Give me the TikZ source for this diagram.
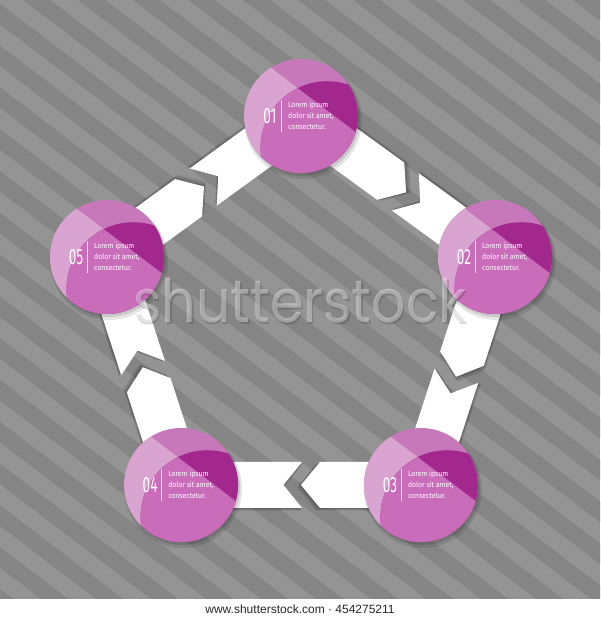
\documentclass[tikz,border=0pt]{standalone}
\usepackage{fontspec}
\setmainfont{Fira Sans}
\newfontfamily\numfont[FakeStretch=0.62]{Fira Sans}
\newfontfamily\bodyfont[FakeStretch=0.9]{Fira Sans}
\newfontfamily\wmfont[FakeStretch=0.9]{Poppins}
\newfontfamily\urlfont{Liberation Sans}
\usetikzlibrary{calc}
\definecolor{stripeL}{HTML}{949494}
\definecolor{stripeD}{HTML}{858585}
\definecolor{dTop}{HTML}{C678BA}
\definecolor{dLight}{HTML}{D9A4D0}
\definecolor{dDark}{HTML}{A2288E}
\definecolor{dLow}{HTML}{C96CBA}
\tikzset{
 disc/.style={circle, minimum size=114pt, inner sep=0pt, path picture={
   \begin{scope}[shift={(path picture bounding box.center)}, x=57pt, y=57pt]
     \fill[dTop] (-1.1,-1.1) rectangle (1.1,1.1);
     \fill[dLight] (-1.305,1.435) -- (1.675,-0.825) -- (1.675,-1.6) -- (-1.6,-1.6) -- (-1.6,1.435) -- cycle;
     \begin{scope}
       \clip (0.46,-0.56) circle (1.17);
       \fill[dDark] (-1.6,-1.6) rectangle (1.6,1.6);
       \fill[dLow] (-1.305,1.435) -- (1.675,-0.825) -- (1.675,-1.6) -- (-1.6,-1.6) -- (-1.6,1.435) -- cycle;
     \end{scope}
   \end{scope}}},
 numlabel/.style={text=white, font=\numfont\fontsize{22}{22}\selectfont, inner sep=0pt},
 bodytext/.style={text=white, font=\bodyfont\fontsize{7.6}{11}\selectfont, align=left, inner sep=0pt, anchor=west},
 divider/.style={draw=white, line width=0.6pt},
 piece/.style={fill=white},
 pshadow/.style={fill=black, fill opacity=0.08},
}
\newcommand\srcpiece[2]{\fill[#2] (-120,-23) -- (#1-19,-23) -- (#1,0) -- (#1-19,23) -- (-120,23) -- cycle;}
\newcommand\dstpiece[2]{\fill[#2] (#1-1,23) -- (#1+17.5,0) -- (#1-1,-23) -- (120,-23) -- (120,23) -- cycle;}
\newcommand\arrowpair[4]{%
\begin{scope}[shift={($(#1)!0.5!(#2)$)}, rotate=#3]
  \foreach \s in {1,...,4}{%
    \srcpiece{#4}{pshadow, shift={(1.1*\s,0.6*\s)}}
    \dstpiece{#4}{pshadow, shift={(0,0.7*\s)}}
  }
  \srcpiece{#4}{piece}
  \dstpiece{#4}{piece}
\end{scope}}
\begin{document}
\begin{tikzpicture}[x=1pt,y=1pt]
\useasboundingbox (0,0) rectangle (600,620);
\fill[white] (0,0) rectangle (600,620);
\begin{scope}
  \clip (0,21) rectangle (600,620);
  \fill[stripeL] (0,21) rectangle (600,620);
  \foreach \k in {-12,...,16}{%
    \pgfmathsetmacro\ca{616.2-41.8*\k}
    \pgfmathsetmacro\cb{\ca-20.5}
    \fill[stripeD] (0,\ca) -- (600,\ca-456) -- (600,\cb-456) -- (0,\cb) -- cycle;
  }
\end{scope}
\coordinate (p1) at (301,504);
\coordinate (p2) at (495,363);
\coordinate (p3) at (420.9,135);
\coordinate (p4) at (181.1,135);
\coordinate (p5) at (107,363);
\arrowpair{p1}{p2}{-36}{10}
\arrowpair{p2}{p3}{-108}{6}
\arrowpair{p3}{p4}{180}{0}
\arrowpair{p4}{p5}{108}{4}
\arrowpair{p5}{p1}{36}{0}
\foreach \i in {1,...,5}{%
  \fill[black, opacity=0.1] ($(p\i)+(2,-4)$) circle (59);
  \fill[black, opacity=0.12] ($(p\i)+(1.5,-2.5)$) circle (57.5);
  \node[disc] (c\i) at (p\i) {};
}
\foreach \i/\n in {1/01,2/02,3/03,4/04,5/05}{%
  \node[numlabel] (n\i) at ($(p\i)+(-31,0)$) {\n};
  \draw[divider] ($(p\i)+(-20,16)$) -- ($(p\i)+(-20,-16)$);
  \node[bodytext] (t\i) at ($(p\i)+(-13,0)$) {Lorem ipsum\\dolor sit amet,\\consectetur.};
}
\node[font=\wmfont\fontsize{60}{60}\selectfont, text=black, text opacity=0.15, anchor=base] (wms) at (301.5,295.5) {shutterstock};
\node[font=\wmfont\fontsize{60}{60}\selectfont, text=white, text opacity=0.35, anchor=base] (wm) at (300,297) {shutterstock};
\node[font=\urlfont\fontsize{12}{12}\selectfont, text=black!85] (url) at (300,10.5) {www.shutterstock.com · 454275211};
\end{tikzpicture}
\end{document}
